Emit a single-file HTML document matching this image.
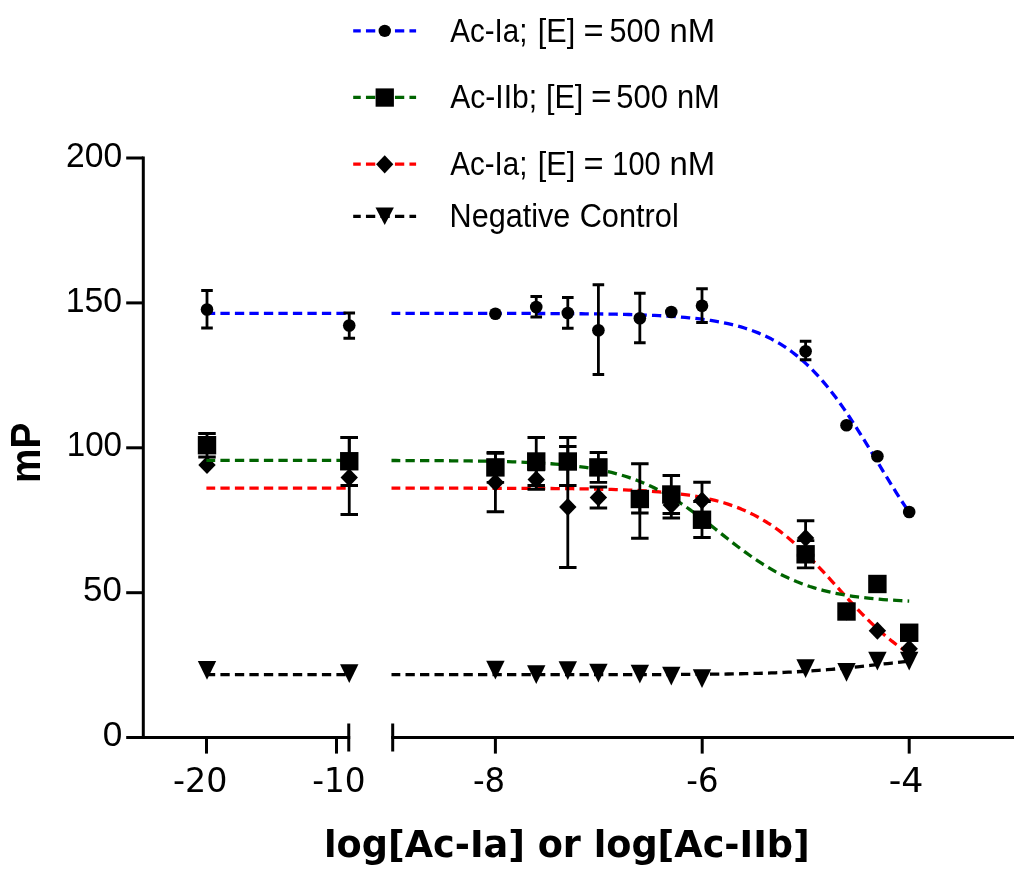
<!DOCTYPE html>
<html lang="en"><head><meta charset="utf-8"><title>Fluorescence polarization competition curves</title>
<style>html,body{margin:0;padding:0;background:#fff}svg{display:block}.ar{font-family:"Liberation Sans",Arial,sans-serif;font-size:33.6px;fill:#000}.dv{font-family:"DejaVu Sans",Verdana,sans-serif;font-size:33px;fill:#000}.dvb{font-family:"DejaVu Sans",Verdana,sans-serif;font-weight:bold;font-size:36.6px;fill:#000}.arb{font-family:"Liberation Sans",Arial,sans-serif;font-weight:bold;font-size:42.3px;fill:#000}</style></head><body>
<svg width="1024" height="877" viewBox="0 0 1024 877">
<rect width="1024" height="877" fill="#fff"/>
<g id="axes" stroke="#000" stroke-width="3" fill="none" stroke-linecap="butt">
<path d="M143.3 156.5V739.1"/>
<path d="M126.2 737.6H350.2"/>
<path d="M391.2 737.6H1014"/>
<path d="M348.75 723.6V751.4M392.7 723.6V751.4"/>
<path d="M126.2 592.7H143.25"/>
<path d="M126.2 447.8H143.25"/>
<path d="M126.2 302.9H143.25"/>
<path d="M126.2 158H143.25"/>
<path d="M206.5 737.6V753.6"/>
<path d="M336.5 737.6V753.6"/>
<path d="M495.4 737.6V753.6"/>
<path d="M702.2 737.6V753.6"/>
<path d="M909.2 737.6V753.6"/>
</g>
<g id="curves" fill="none" stroke-width="3.3" stroke-dasharray="9.3 5.2" stroke-linecap="butt" stroke-linejoin="round" stroke-dashoffset="0.5">
<path d="M206.4 313.33H349.25" stroke="#0000ff"/>
<polyline points="391.5,313.34 395.81,313.34 400.13,313.34 404.44,313.34 408.76,313.34 413.07,313.34 417.39,313.34 421.7,313.34 426.01,313.35 430.33,313.35 434.64,313.35 438.96,313.35 443.27,313.35 447.58,313.35 451.9,313.36 456.21,313.36 460.53,313.36 464.84,313.36 469.16,313.37 473.47,313.37 477.78,313.37 482.1,313.38 486.41,313.38 490.73,313.39 495.04,313.39 499.35,313.4 503.67,313.41 507.98,313.41 512.3,313.42 516.61,313.43 520.93,313.44 525.24,313.45 529.55,313.46 533.87,313.48 538.18,313.49 542.5,313.51 546.81,313.52 551.12,313.54 555.44,313.56 559.75,313.59 564.07,313.61 568.38,313.64 572.7,313.67 577.01,313.71 581.32,313.74 585.64,313.78 589.95,313.83 594.27,313.88 598.58,313.93 602.89,313.99 607.21,314.06 611.52,314.13 615.84,314.21 620.15,314.3 624.47,314.4 628.78,314.51 633.09,314.62 637.41,314.75 641.72,314.9 646.04,315.05 650.35,315.22 654.66,315.41 658.98,315.62 663.29,315.85 667.61,316.1 671.92,316.38 676.24,316.68 680.55,317.01 684.86,317.38 689.18,317.78 693.49,318.22 697.81,318.7 702.12,319.23 706.43,319.81 710.75,320.45 715.06,321.14 719.38,321.91 723.69,322.74 728.01,323.66 732.32,324.65 736.63,325.75 740.95,326.94 745.26,328.24 749.58,329.66 753.89,331.2 758.2,332.88 762.52,334.71 766.83,336.69 771.15,338.84 775.46,341.17 779.78,343.68 784.09,346.4 788.4,349.32 792.72,352.47 797.03,355.85 801.35,359.46 805.66,363.32 809.97,367.44 814.29,371.82 818.6,376.46 822.92,381.36 827.23,386.52 831.55,391.94 835.86,397.62 840.17,403.53 844.49,409.67 848.8,416.02 853.12,422.57 857.43,429.28 861.74,436.14 866.06,443.12 870.37,450.18 874.69,457.29 879,464.43 883.32,471.56 887.63,478.65 891.94,485.66 896.26,492.57 900.57,499.35 904.89,505.96 909.2,512.39" stroke="#0000ff"/>
</g>
<g id="blue-pts" stroke="#000" stroke-width="2.8" fill="none">
<path d="M207 290.5V328M201.2 290.5H212.8M201.2 328H212.8"/>
<path d="M349.25 313V338.25M343.45 313H355.05M343.45 338.25H355.05"/>
<path d="M536.24 296.5V317M530.44 296.5H542.04M530.44 317H542.04"/>
<path d="M567.8 297.5V328.25M562 297.5H573.6M562 328.25H573.6"/>
<path d="M598.4 284.75V374.5M592.6 284.75H604.2M592.6 374.5H604.2"/>
<path d="M639.84 293.25V342.75M634.04 293.25H645.64M634.04 342.75H645.64"/>
<path d="M702 288.75V322.5M696.2 288.75H707.8M696.2 322.5H707.8"/>
<path d="M805.6 341.25V359.75M799.8 341.25H811.4M799.8 359.75H811.4"/>
</g><g fill="#000">
<circle cx="207" cy="309.5" r="6.3"/>
<circle cx="349.25" cy="325.5" r="6.3"/>
<circle cx="495.4" cy="313.75" r="6.3"/>
<circle cx="536.24" cy="307" r="6.3"/>
<circle cx="567.8" cy="313" r="6.3"/>
<circle cx="598.4" cy="330.25" r="6.3"/>
<circle cx="639.84" cy="318.25" r="6.3"/>
<circle cx="671.3" cy="312" r="6.3"/>
<circle cx="702" cy="305.75" r="6.3"/>
<circle cx="805.6" cy="351.25" r="6.3"/>
<circle cx="846.5" cy="425.25" r="6.3"/>
<circle cx="877.4" cy="456.25" r="6.3"/>
<circle cx="909.2" cy="512" r="6.3"/>
</g>
<g fill="none" stroke-width="3.3" stroke-dasharray="9.3 5.2" stroke-linecap="butt" stroke-linejoin="round" stroke-dashoffset="0.5">
<path d="M206.4 488.17H349.25" stroke="#ff0000"/>
<polyline points="391.5,488.18 395.81,488.18 400.13,488.18 404.44,488.18 408.76,488.18 413.07,488.18 417.39,488.19 421.7,488.19 426.01,488.19 430.33,488.19 434.64,488.19 438.96,488.2 443.27,488.2 447.58,488.2 451.9,488.21 456.21,488.21 460.53,488.21 464.84,488.22 469.16,488.22 473.47,488.23 477.78,488.24 482.1,488.24 486.41,488.25 490.73,488.26 495.04,488.27 499.35,488.28 503.67,488.29 507.98,488.3 512.3,488.31 516.61,488.33 520.93,488.34 525.24,488.36 529.55,488.38 533.87,488.4 538.18,488.42 542.5,488.45 546.81,488.48 551.12,488.51 555.44,488.54 559.75,488.58 564.07,488.62 568.38,488.67 572.7,488.72 577.01,488.77 581.32,488.83 585.64,488.9 589.95,488.97 594.27,489.05 598.58,489.14 602.89,489.24 607.21,489.35 611.52,489.46 615.84,489.59 620.15,489.74 624.47,489.89 628.78,490.06 633.09,490.25 637.41,490.46 641.72,490.69 646.04,490.94 650.35,491.21 654.66,491.51 658.98,491.84 663.29,492.21 667.61,492.6 671.92,493.04 676.24,493.51 680.55,494.04 684.86,494.61 689.18,495.23 693.49,495.92 697.81,496.66 702.12,497.48 706.43,498.37 710.75,499.34 715.06,500.39 719.38,501.54 723.69,502.78 728.01,504.14 732.32,505.6 736.63,507.19 740.95,508.9 745.26,510.75 749.58,512.74 753.89,514.88 758.2,517.18 762.52,519.64 766.83,522.26 771.15,525.06 775.46,528.02 779.78,531.17 784.09,534.49 788.4,537.98 792.72,541.65 797.03,545.48 801.35,549.47 805.66,553.61 809.97,557.88 814.29,562.28 818.6,566.79 822.92,571.39 827.23,576.07 831.55,580.79 835.86,585.55 840.17,590.31 844.49,595.07 848.8,599.79 853.12,604.45 857.43,609.04 861.74,613.54 866.06,617.92 870.37,622.18 874.69,626.3 879,630.27 883.32,634.07 887.63,637.71 891.94,641.18 896.26,644.48 900.57,647.6 904.89,650.54 909.2,653.31" stroke="#ff0000"/>
</g>
<g id="red-pts" stroke="#000" stroke-width="2.8" fill="none">
<path d="M349.25 437.5V514.5M340.5 437.5H358M340.5 514.5H358"/>
<path d="M495.4 453.25V511.75M486.65 453.25H504.15M486.65 511.75H504.15"/>
<path d="M536.24 469.75V489.25M527.49 469.75H544.99M527.49 489.25H544.99"/>
<path d="M567.8 446.5V567.5M559.05 446.5H576.55M559.05 567.5H576.55"/>
<path d="M598.4 487V508M589.65 487H607.15M589.65 508H607.15"/>
<path d="M639.84 499V513M631.09 499H648.59M631.09 513H648.59"/>
<path d="M671.3 492V518M662.55 492H680.05M662.55 518H680.05"/>
<path d="M702 482.25V518.5M693.25 482.25H710.75M693.25 518.5H710.75"/>
<path d="M805.6 520.75V555.25M796.85 520.75H814.35M796.85 555.25H814.35"/>
</g><g fill="#000">
<path d="M207 456L215.7 465L207 474L198.3 465Z"/>
<path d="M349.25 468.5L357.95 477.5L349.25 486.5L340.55 477.5Z"/>
<path d="M495.4 473.5L504.1 482.5L495.4 491.5L486.7 482.5Z"/>
<path d="M536.24 470.5L544.94 479.5L536.24 488.5L527.54 479.5Z"/>
<path d="M567.8 498L576.5 507L567.8 516L559.1 507Z"/>
<path d="M598.4 488.5L607.1 497.5L598.4 506.5L589.7 497.5Z"/>
<path d="M639.84 490L648.54 499L639.84 508L631.14 499Z"/>
<path d="M671.3 496L680 505L671.3 514L662.6 505Z"/>
<path d="M702 491.5L710.7 500.5L702 509.5L693.3 500.5Z"/>
<path d="M805.6 529L814.3 538L805.6 547L796.9 538Z"/>
<path d="M846.5 602.5L855.2 611.5L846.5 620.5L837.8 611.5Z"/>
<path d="M877.4 621.75L886.1 630.75L877.4 639.75L868.7 630.75Z"/>
<path d="M909.2 639.75L917.9 648.75L909.2 657.75L900.5 648.75Z"/>
</g>
<g fill="none" stroke-width="3.3" stroke-dasharray="9.3 5.2" stroke-linecap="butt" stroke-linejoin="round" stroke-dashoffset="0.5">
<path d="M206.4 460.41H349.25" stroke="#006400"/>
<polyline points="391.5,460.51 395.81,460.52 400.13,460.53 404.44,460.54 408.76,460.55 413.07,460.57 417.39,460.58 421.7,460.6 426.01,460.62 430.33,460.64 434.64,460.66 438.96,460.69 443.27,460.72 447.58,460.75 451.9,460.78 456.21,460.82 460.53,460.86 464.84,460.91 469.16,460.96 473.47,461.02 477.78,461.08 482.1,461.14 486.41,461.22 490.73,461.3 495.04,461.39 499.35,461.49 503.67,461.59 507.98,461.71 512.3,461.84 516.61,461.98 520.93,462.14 525.24,462.31 529.55,462.5 533.87,462.71 538.18,462.94 542.5,463.19 546.81,463.46 551.12,463.76 555.44,464.09 559.75,464.45 564.07,464.85 568.38,465.28 572.7,465.75 577.01,466.27 581.32,466.83 585.64,467.44 589.95,468.11 594.27,468.84 598.58,469.64 602.89,470.5 607.21,471.44 611.52,472.45 615.84,473.55 620.15,474.74 624.47,476.03 628.78,477.41 633.09,478.9 637.41,480.5 641.72,482.22 646.04,484.05 650.35,486 654.66,488.08 658.98,490.28 663.29,492.61 667.61,495.06 671.92,497.64 676.24,500.34 680.55,503.15 684.86,506.07 689.18,509.1 693.49,512.22 697.81,515.43 702.12,518.7 706.43,522.04 710.75,525.41 715.06,528.82 719.38,532.24 723.69,535.66 728.01,539.06 732.32,542.42 736.63,545.74 740.95,549 745.26,552.18 749.58,555.28 753.89,558.28 758.2,561.17 762.52,563.96 766.83,566.62 771.15,569.17 775.46,571.59 779.78,573.88 784.09,576.05 788.4,578.09 792.72,580.01 797.03,581.81 801.35,583.49 805.66,585.06 809.97,586.52 814.29,587.87 818.6,589.13 822.92,590.3 827.23,591.37 831.55,592.37 835.86,593.28 840.17,594.13 844.49,594.9 848.8,595.62 853.12,596.27 857.43,596.87 861.74,597.42 866.06,597.92 870.37,598.38 874.69,598.8 879,599.19 883.32,599.54 887.63,599.86 891.94,600.15 896.26,600.42 900.57,600.67 904.89,600.89 909.2,601.09" stroke="#006400"/>
</g>
<g id="green-pts" stroke="#000" stroke-width="2.8" fill="none">
<path d="M207 433.5V457M198.25 433.5H215.75M198.25 457H215.75"/>
<path d="M349.25 437.5V485.5M340.5 437.5H358M340.5 485.5H358"/>
<path d="M495.4 452.5V482.3M486.65 452.5H504.15M486.65 482.3H504.15"/>
<path d="M536.24 437.5V485.5M527.49 437.5H544.99M527.49 485.5H544.99"/>
<path d="M567.8 437.5V485.5M559.05 437.5H576.55M559.05 485.5H576.55"/>
<path d="M598.4 452.5V482.3M589.65 452.5H607.15M589.65 482.3H607.15"/>
<path d="M639.84 463.75V538.25M631.09 463.75H648.59M631.09 538.25H648.59"/>
<path d="M671.3 475.5V513.5M662.55 475.5H680.05M662.55 513.5H680.05"/>
<path d="M702 501.5V537.5M693.25 501.5H710.75M693.25 537.5H710.75"/>
<path d="M805.6 540.7V567.9M796.85 540.7H814.35M796.85 567.9H814.35"/>
</g><g fill="#000">
<rect x="197.8" y="436" width="18.4" height="18.4"/>
<rect x="340.05" y="452.05" width="18.4" height="18.4"/>
<rect x="486.2" y="458.2" width="18.4" height="18.4"/>
<rect x="527.04" y="452.3" width="18.4" height="18.4"/>
<rect x="558.6" y="452.3" width="18.4" height="18.4"/>
<rect x="589.2" y="458.2" width="18.4" height="18.4"/>
<rect x="630.64" y="489.8" width="18.4" height="18.4"/>
<rect x="662.1" y="485.3" width="18.4" height="18.4"/>
<rect x="692.8" y="510.55" width="18.4" height="18.4"/>
<rect x="796.4" y="545.1" width="18.4" height="18.4"/>
<rect x="837.3" y="602.3" width="18.4" height="18.4"/>
<rect x="868.2" y="574.8" width="18.4" height="18.4"/>
<rect x="900" y="623.55" width="18.4" height="18.4"/>
</g>
<g fill="none" stroke-width="3.3" stroke-dasharray="9.3 5.2" stroke-linecap="butt" stroke-linejoin="round" stroke-dashoffset="0.5">
<path d="M206.4 674.71H349.25" stroke="#000000"/>
<polyline points="391.5,674.71 395.81,674.71 400.13,674.71 404.44,674.71 408.76,674.71 413.07,674.71 417.39,674.71 421.7,674.71 426.01,674.71 430.33,674.71 434.64,674.71 438.96,674.71 443.27,674.71 447.58,674.71 451.9,674.71 456.21,674.71 460.53,674.71 464.84,674.71 469.16,674.71 473.47,674.71 477.78,674.71 482.1,674.71 486.41,674.71 490.73,674.71 495.04,674.71 499.35,674.71 503.67,674.71 507.98,674.71 512.3,674.71 516.61,674.71 520.93,674.71 525.24,674.71 529.55,674.7 533.87,674.7 538.18,674.7 542.5,674.7 546.81,674.7 551.12,674.7 555.44,674.7 559.75,674.7 564.07,674.69 568.38,674.69 572.7,674.69 577.01,674.69 581.32,674.68 585.64,674.68 589.95,674.68 594.27,674.68 598.58,674.67 602.89,674.67 607.21,674.66 611.52,674.66 615.84,674.65 620.15,674.65 624.47,674.64 628.78,674.63 633.09,674.62 637.41,674.61 641.72,674.6 646.04,674.59 650.35,674.58 654.66,674.57 658.98,674.55 663.29,674.54 667.61,674.52 671.92,674.5 676.24,674.48 680.55,674.46 684.86,674.43 689.18,674.4 693.49,674.37 697.81,674.34 702.12,674.3 706.43,674.26 710.75,674.22 715.06,674.17 719.38,674.12 723.69,674.06 728.01,673.99 732.32,673.93 736.63,673.85 740.95,673.77 745.26,673.68 749.58,673.58 753.89,673.47 758.2,673.35 762.52,673.23 766.83,673.09 771.15,672.94 775.46,672.78 779.78,672.61 784.09,672.42 788.4,672.22 792.72,672 797.03,671.77 801.35,671.52 805.66,671.26 809.97,670.98 814.29,670.68 818.6,670.36 822.92,670.03 827.23,669.68 831.55,669.31 835.86,668.92 840.17,668.52 844.49,668.11 848.8,667.68 853.12,667.24 857.43,666.79 861.74,666.34 866.06,665.87 870.37,665.4 874.69,664.93 879,664.46 883.32,663.99 887.63,663.52 891.94,663.06 896.26,662.61 900.57,662.17 904.89,661.73 909.2,661.32" stroke="#000000"/>
</g>
<g id="black-pts" fill="#000">
<path d="M197.8 660.95H216.2L207 679.65Z"/>
<path d="M340.05 664.2H358.45L349.25 682.9Z"/>
<path d="M486.2 660.7H504.6L495.4 679.4Z"/>
<path d="M527.04 665.2H545.44L536.24 683.9Z"/>
<path d="M558.6 661.2H577L567.8 679.9Z"/>
<path d="M589.2 663.7H607.6L598.4 682.4Z"/>
<path d="M630.64 664.7H649.04L639.84 683.4Z"/>
<path d="M662.1 666.7H680.5L671.3 685.4Z"/>
<path d="M692.8 669.2H711.2L702 687.9Z"/>
<path d="M796.4 659.2H814.8L805.6 677.9Z"/>
<path d="M837.3 662.95H855.7L846.5 681.65Z"/>
<path d="M868.2 651.7H886.6L877.4 670.4Z"/>
<path d="M900 651.7H918.4L909.2 670.4Z"/>
</g>
<g id="legend" fill="none" stroke-width="3.3" stroke-dasharray="9.3 5.2" stroke-dashoffset="1.75">
<path d="M353.2 30.9H416.1" stroke="#0000ff"/>
<path d="M353.2 97.3H416.1" stroke="#006400"/>
<path d="M353.2 164.2H416.1" stroke="#ff0000"/>
<path d="M353.2 216.3H416.1" stroke="#000000"/>
</g>
<g fill="#000">
<circle cx="384.75" cy="30.9" r="6.2"/>
<rect x="375.6" y="88.4" width="18.3" height="18.3"/>
<path d="M384.7 155.2L393.3 164.3L384.7 173.4L376.1 164.3Z"/>
<path d="M375.5 207.4H393.9L384.7 224.9Z"/>
</g>
<text class="ar" y="41.9"><tspan x="450.25" textLength="77.13" lengthAdjust="spacingAndGlyphs">Ac-Ia;</tspan> <tspan x="537.78" textLength="37.4" lengthAdjust="spacingAndGlyphs">[E]</tspan> <tspan x="583.55" textLength="20.1" lengthAdjust="spacingAndGlyphs">=</tspan> <tspan x="609.58" textLength="51.06" lengthAdjust="spacingAndGlyphs">500</tspan> <tspan x="669.44" textLength="45.66" lengthAdjust="spacingAndGlyphs">nM</tspan></text>
<text class="ar" y="108.4"><tspan x="450.25" textLength="86.76" lengthAdjust="spacingAndGlyphs">Ac-IIb;</tspan> <tspan x="545.98" textLength="37.4" lengthAdjust="spacingAndGlyphs">[E]</tspan> <tspan x="591.1" textLength="20.59" lengthAdjust="spacingAndGlyphs">=</tspan> <tspan x="616.25" textLength="51.7" lengthAdjust="spacingAndGlyphs">500</tspan> <tspan x="676.96" textLength="42.88" lengthAdjust="spacingAndGlyphs">nM</tspan></text>
<text class="ar" y="175.1"><tspan x="450.25" textLength="77.13" lengthAdjust="spacingAndGlyphs">Ac-Ia;</tspan> <tspan x="537.78" textLength="37.4" lengthAdjust="spacingAndGlyphs">[E]</tspan> <tspan x="583.55" textLength="20.1" lengthAdjust="spacingAndGlyphs">=</tspan> <tspan x="612.32" textLength="48.27" lengthAdjust="spacingAndGlyphs">100</tspan> <tspan x="669.44" textLength="45.66" lengthAdjust="spacingAndGlyphs">nM</tspan></text>
<text class="ar" y="226.7"><tspan x="449.57" textLength="120.73" lengthAdjust="spacingAndGlyphs">Negative</tspan> <tspan x="579.67" textLength="99.09" lengthAdjust="spacingAndGlyphs">Control</tspan></text>
<text class="ar" style="font-size:34.6px" x="66.06" y="167.0" textLength="56.1" lengthAdjust="spacingAndGlyphs">200</text>
<text class="ar" style="font-size:34.6px" x="65.82" y="311.7" textLength="56.34" lengthAdjust="spacingAndGlyphs">150</text>
<text class="ar" style="font-size:34.6px" x="66.72" y="456.0" textLength="55.31" lengthAdjust="spacingAndGlyphs">100</text>
<text class="ar" style="font-size:34.6px" x="83.09" y="600.9" textLength="38.69" lengthAdjust="spacingAndGlyphs">50</text>
<text class="ar" style="font-size:34.6px" x="102.78" y="746.0" textLength="19.57" lengthAdjust="spacingAndGlyphs">0</text>
<text class="dv" x="172.98" y="791.6" textLength="54.45" lengthAdjust="spacingAndGlyphs">-20</text>
<text class="dv" x="312.27" y="791.6" textLength="53.37" lengthAdjust="spacingAndGlyphs">-10</text>
<text class="dv" x="472.94" y="791.6" textLength="32.23" lengthAdjust="spacingAndGlyphs">-8</text>
<text class="dv" x="686.34" y="791.6" textLength="32.23" lengthAdjust="spacingAndGlyphs">-6</text>
<text class="dv" x="888.69" y="791.6" textLength="34.72" lengthAdjust="spacingAndGlyphs">-4</text>
<text class="dvb" x="324" y="857.2" textLength="485.76" lengthAdjust="spacingAndGlyphs">log[Ac-Ia] or log[Ac-IIb]</text>
<text class="arb" transform="translate(40.4 452.8) rotate(-90) scale(0.917 1)" text-anchor="middle">mP</text>
</svg></body></html>
